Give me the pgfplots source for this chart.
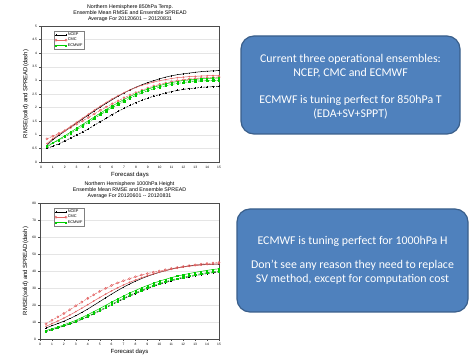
\documentclass[border=0pt]{standalone}
\usepackage{pgfplots}
\usepackage{pgfplotstable}
\pgfplotsset{compat=1.18}
\usepackage{fontspec}
\setmainfont{Carlito}
\newfontfamily\gf{Liberation Sans}
\definecolor{boxblue}{HTML}{4F81BD}
\definecolor{boxedge}{HTML}{3A5F8B}
\definecolor{cmcred}{RGB}{228,100,100}
\definecolor{ecgreen}{RGB}{0,205,0}

\pgfplotstableread{
d    nr    ns    cr    cs    er    es
0.5  0.62  0.50  0.68  0.85  0.55  0.60
1    0.82  0.58  0.86  0.95  0.70  0.70
1.5  0.98  0.67  1.01  1.05  0.83  0.80
2    1.13  0.77  1.16  1.15  0.96  0.92
2.5  1.28  0.88  1.31  1.27  1.10  1.05
3    1.43  0.99  1.46  1.39  1.24  1.18
3.5  1.58  1.10  1.61  1.51  1.38  1.32
4    1.73  1.22  1.76  1.64  1.52  1.46
4.5  1.88  1.35  1.91  1.77  1.66  1.60
5    2.02  1.48  2.05  1.90  1.80  1.74
5.5  2.16  1.61  2.19  2.02  1.93  1.87
6    2.29  1.74  2.32  2.14  2.06  2.00
6.5  2.42  1.86  2.44  2.25  2.18  2.12
7    2.54  1.97  2.55  2.36  2.30  2.24
7.5  2.65  2.08  2.65  2.46  2.41  2.35
8    2.75  2.18  2.74  2.55  2.51  2.45
8.5  2.84  2.27  2.82  2.64  2.60  2.54
9    2.92  2.35  2.88  2.72  2.68  2.62
9.5  2.99  2.42  2.94  2.79  2.75  2.69
10   3.06  2.48  2.99  2.85  2.81  2.75
10.5 3.12  2.54  3.03  2.90  2.87  2.80
11   3.17  2.59  3.07  2.95  2.92  2.85
11.5 3.21  2.63  3.10  2.99  2.96  2.89
12   3.24  2.67  3.12  3.02  3.00  2.92
12.5 3.27  2.70  3.14  3.05  3.02  2.95
13   3.30  2.72  3.15  3.07  3.04  2.97
13.5 3.32  2.74  3.16  3.09  3.06  2.98
14   3.34  2.76  3.17  3.10  3.07  2.99
14.5 3.35  2.77  3.18  3.11  3.08  3.00
15   3.36  2.78  3.18  3.12  3.08  3.00
}\tabT

\pgfplotstableread{
d    nr    ns    cr    cs    er    es
0.5  6.5   4.4   7.5   9.0   5.0   4.6
1    7.8   5.4   9.0   11.0  6.0   5.6
1.5  9.1   6.5   10.6  13.0  7.1   6.7
2    10.5  7.6   12.3  15.0  8.3   7.8
2.5  12.0  8.8   14.1  17.2  9.6   9.0
3    13.7  10.1  16.1  19.5  11.0  10.3
3.5  15.6  11.5  18.1  21.7  12.6  11.8
4    17.6  13.1  20.2  23.9  14.3  13.4
4.5  19.8  14.8  22.3  26.0  16.1  15.1
5    22.0  16.5  24.4  28.0  17.9  16.9
5.5  24.2  18.3  26.4  29.8  19.8  18.7
6    26.4  20.1  28.3  31.5  21.7  20.5
6.5  28.5  21.9  30.1  33.0  23.5  22.3
7    30.5  23.6  31.8  34.3  25.3  24.0
7.5  32.3  25.2  33.3  35.5  27.0  25.7
8    34.0  26.7  34.7  36.6  28.6  27.2
8.5  35.5  28.2  36.0  37.6  30.1  28.7
9    36.9  29.6  37.2  38.5  31.5  30.1
9.5  38.1  30.9  38.3  39.3  32.8  31.4
10   39.2  32.1  39.3  40.0  34.0  32.6
10.5 40.2  33.2  40.2  40.7  35.1  33.7
11   41.1  34.2  41.0  41.4  36.1  34.7
11.5 41.9  35.1  41.7  42.0  37.0  35.6
12   42.5  35.9  42.3  42.6  37.8  36.4
12.5 43.0  36.6  42.8  43.1  38.5  37.1
13   43.4  37.3  43.2  43.6  39.2  37.8
13.5 43.7  37.9  43.5  44.0  39.8  38.4
14   43.9  38.5  43.8  44.4  40.4  39.0
14.5 44.0  39.0  44.0  44.7  40.9  39.5
15   44.1  39.4  44.2  45.0  41.3  39.9
}\tabH

\pgfplotsset{
  gstyle/.style={
    scale only axis, width=178bp, height=136bp,
    xmin=0, xmax=15, xtick={0,...,15},
    xtick pos=bottom, ytick pos=left, tick align=outside,
    major tick length=1.5bp,
    tick style={black!70, line width=0.3bp},
    axis line style={black!70, line width=0.4bp},
    ymajorgrids, grid style={gray!20, line width=0.3bp},
    /pgf/number format/assume math mode=true,
    ticklabel style={font=\gf\fontsize{3.3}{3.8}\selectfont},
    xticklabel style={yshift=1bp},
    yticklabel style={xshift=1bp},
    xlabel={Forecast days},
    xlabel style={font=\gf\fontsize{6}{7}\selectfont, yshift=3bp},
    ylabel={RMSE(solid) and SPREAD(dash)},
    ylabel style={font=\gf\fontsize{6}{7}\selectfont, yshift=-3bp},
    title style={font=\gf\fontsize{5.3}{6}\selectfont, align=center, yshift=-5.5bp},
    legend style={at={(0.073,0.963)}, anchor=north west, draw=black!50,
      line width=0.3bp, inner sep=0.8bp, font=\gf\fontsize{3.9}{4.6}\selectfont,
      nodes={inner sep=0.75bp}, row sep=-0.4bp},
    legend cell align=left,
    legend image code/.code={\draw[#1] plot coordinates {(0bp,0bp) (10bp,0bp)};},
    every axis plot/.append style={line width=0.5bp},
  },
  nc/.style={black, mark=+, mark size=1bp},
  cm/.style={cmcred, mark=o, mark size=1.05bp},
  ec/.style={ecgreen, mark=square*, mark size=0.7bp},
  sol/.style={solid, mark size=0.55bp},
  dsh/.style={dash pattern=on 2bp off 1.2bp, every mark/.append style={solid}},
}

\begin{document}
\begin{tikzpicture}
\fill[white] (0bp,0bp) rectangle (474bp,355bp);

% ---------- top chart: 850hPa T
\begin{axis}[gstyle, at={(41bp,193bp)}, anchor=south west,
  ymin=0, ymax=5, ytick={0,0.5,...,5},
  title={Northern Hemisphere 850hPa Temp.\\Ensemble Mean RMSE and Ensemble SPREAD\\Average For 20120601 -- 20120831}]
\addlegendimage{nc}\addlegendentry{NCEP}
\addlegendimage{cm}\addlegendentry{CMC}
\addlegendimage{ec}\addlegendentry{ECMWF}
\addplot[nc, sol, forget plot] table[x=d, y=nr] {\tabT};
\addplot[nc, dsh, forget plot] table[x=d, y=ns] {\tabT};
\addplot[cm, sol, forget plot] table[x=d, y=cr] {\tabT};
\addplot[cm, dsh, forget plot] table[x=d, y=cs] {\tabT};
\addplot[ec, sol, forget plot] table[x=d, y=er] {\tabT};
\addplot[ec, dsh, forget plot] table[x=d, y=es] {\tabT};
\end{axis}

% ---------- bottom chart: 1000hPa H
\begin{axis}[gstyle, at={(40bp,16bp)}, anchor=south west, width=179bp,
  ymin=0, ymax=80, ytick={0,10,...,80},
  legend style={at={(0.078,0.963)}},
  title={Northern Hemisphere 1000hPa Height\\Ensemble Mean RMSE and Ensemble SPREAD\\Average For 20120601 -- 20120831}]
\addlegendimage{nc}\addlegendentry{NCEP}
\addlegendimage{cm}\addlegendentry{CMC}
\addlegendimage{ec}\addlegendentry{ECMWF}
\addplot[nc, sol, forget plot] table[x=d, y=nr] {\tabH};
\addplot[nc, dsh, forget plot] table[x=d, y=ns] {\tabH};
\addplot[cm, sol, forget plot] table[x=d, y=cr] {\tabH};
\addplot[cm, dsh, forget plot] table[x=d, y=cs] {\tabH};
\addplot[ec, sol, forget plot] table[x=d, y=er] {\tabH};
\addplot[ec, dsh, forget plot] table[x=d, y=es] {\tabH};
\end{axis}

% ---------- text boxes
\draw[boxedge, line width=1.2bp, fill=boxblue, rounded corners=13bp]
  (241bp,221bp) rectangle (460bp,319bp);
\node[white, align=center, font=\fontsize{11.9}{14.5}\selectfont]
  at (350.5bp,268.5bp) {Current three operational ensembles:\\NCEP, CMC and ECMWF\\[12bp]ECMWF is tuning perfect for 850hPa T\\(EDA+SV+SPPT)};

\draw[boxedge, line width=1.2bp, fill=boxblue, rounded corners=13bp]
  (237bp,43bp) rectangle (468bp,146bp);
\node[white, align=center, font=\fontsize{11.9}{14}\selectfont]
  at (352.5bp,95bp) {ECMWF is tuning perfect for 1000hPa H\\[10bp]Don’t see any reason they need to replace\\SV method, except for computation cost};
\end{tikzpicture}
\end{document}
